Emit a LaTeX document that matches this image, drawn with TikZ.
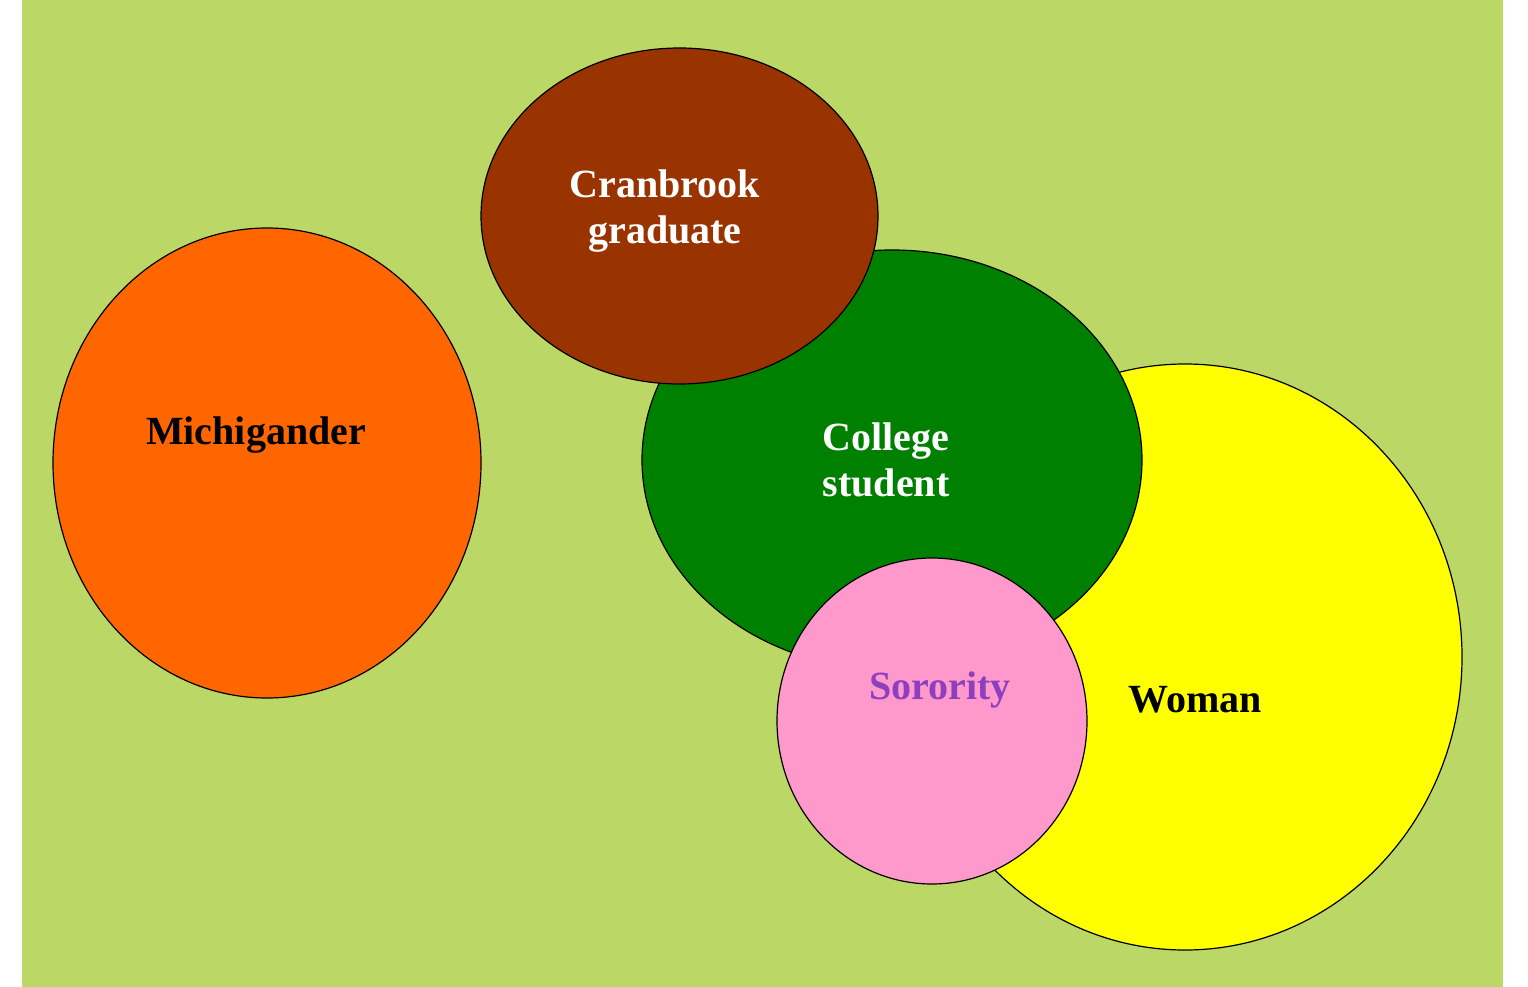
\documentclass[tikz,border=0pt]{standalone}
\usepackage{fontspec}
\setmainfont{Liberation Serif}
\begin{document}
\begin{tikzpicture}[x=1pt,y=-1pt,
  blob/.style={draw=black,line width=1.2pt},
  lbl/.style={font=\fontsize{40}{46}\selectfont\bfseries,align=center}]
\useasboundingbox (0,0) rectangle (1528,987);
\fill[white] (0,0) rectangle (1528,987);
\fill[fill={rgb,255:red,187;green,215;blue,101}] (22,0) rectangle (1503,987);
\definecolor{mich}{HTML}{FF6600}
\definecolor{cran}{HTML}{993300}
\definecolor{coll}{HTML}{008000}
\definecolor{wom}{HTML}{FFFF00}
\definecolor{sor}{HTML}{FF99CC}
\definecolor{sortext}{HTML}{8E3FBF}
\draw[blob,fill=mich] (267,463) ellipse [x radius=214, y radius=235];
\draw[blob,fill=wom] (1185,657) ellipse [x radius=277, y radius=293];
\draw[blob,fill=coll] (892,460) ellipse [x radius=250, y radius=210];
\draw[blob,fill=cran] (679.5,216) ellipse [x radius=198.5, y radius=168];
\draw[blob,fill=sor] (932,721) ellipse [x radius=155, y radius=163];
\node[lbl] (m) at (256,435) {Michigander};
\node[lbl,white] (c) at (665,211) {Cranbrook\\graduate};
\node[lbl,white] (s) at (886,460) {College\\student};
\node[lbl,text=sortext] (so) at (940,690) {Sorority};
\node[lbl] (w) at (1195,700) {Woman};
\end{tikzpicture}
\end{document}
